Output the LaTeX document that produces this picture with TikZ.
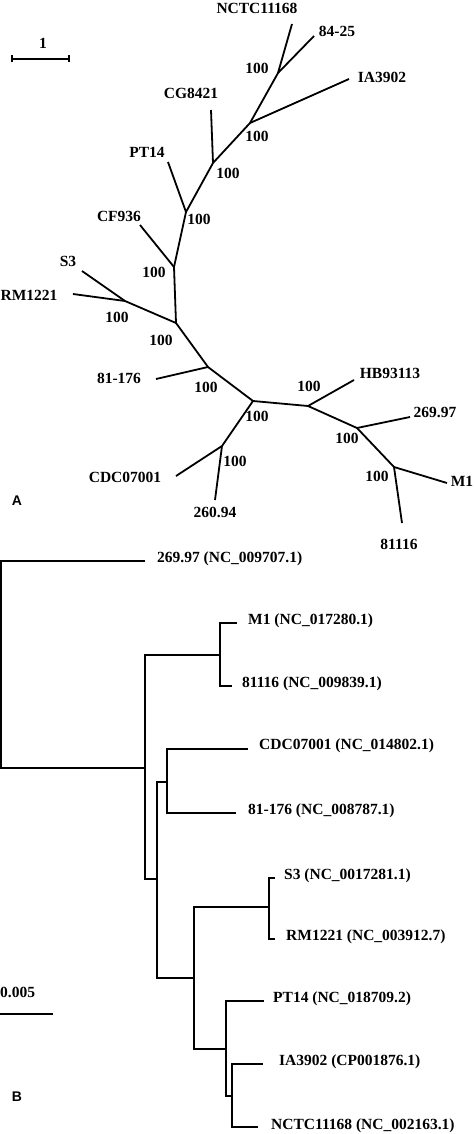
\documentclass[tikz,border=0pt]{standalone}
\usepackage{fontspec}
\setmainfont{Liberation Serif}
\newfontfamily\sansb{Liberation Sans}
\begin{document}
\begin{tikzpicture}[x=1pt,y=-1pt,
  lbl/.style={inner sep=0pt,text height=10.3pt,text depth=0pt,font=\fontsize{15.5}{18}\selectfont\bfseries},
  brA/.style={line width=1.8pt},
  brB/.style={line width=1.4pt},
  panel/.style={inner sep=0pt,font=\sansb\fontsize{14}{16}\selectfont\bfseries}]
\useasboundingbox (0,0) rectangle (474,1134);
% ---------------- Tree A ----------------
\coordinate (a84) at (278,73);
\coordinate (aIA) at (250,123);
\coordinate (aCG) at (213,163);
\coordinate (aPT) at (186,212);
\coordinate (aCF) at (174,267);
\coordinate (aS) at (176,323);
\coordinate (aSR) at (125,301);
\coordinate (a81) at (208,367);
\coordinate (aC) at (253,401);
\coordinate (aCDC) at (222,446);
\coordinate (aHB) at (308,406);
\coordinate (a269) at (357,428);
\coordinate (aM1) at (394,467);
% leaves
\coordinate (lNCTC) at (292,24);
\coordinate (l8425) at (314,36);
\coordinate (lIA) at (349,79);
\coordinate (lCG) at (211,110);
\coordinate (lPT) at (168,162);
\coordinate (lCF) at (140,225);
\coordinate (lS3) at (82,271);
\coordinate (lRM) at (73,294);
\coordinate (l81) at (156,379);
\coordinate (lCDC) at (176,476);
\coordinate (l260) at (215,500);
\coordinate (lHB) at (354,380);
\coordinate (l269) at (410,417);
\coordinate (lM1) at (447,483);
\coordinate (l811) at (402,523);
% internal edges
\draw[brA] (a84) -- (aIA) -- (aCG) -- (aPT) -- (aCF) -- (aS) -- (a81) -- (aC) -- (aHB) -- (a269) -- (aM1);
\draw[brA] (aS) -- (aSR);
\draw[brA] (aC) -- (aCDC);
% leaf edges
\draw[brA] (a84) -- (lNCTC);
\draw[brA] (a84) -- (l8425);
\draw[brA] (aIA) -- (lIA);
\draw[brA] (aCG) -- (lCG);
\draw[brA] (aPT) -- (lPT);
\draw[brA] (aCF) -- (lCF);
\draw[brA] (aSR) -- (lS3);
\draw[brA] (aSR) -- (lRM);
\draw[brA] (a81) -- (l81);
\draw[brA] (aCDC) -- (lCDC);
\draw[brA] (aCDC) -- (l260);
\draw[brA] (aHB) -- (lHB);
\draw[brA] (a269) -- (l269);
\draw[brA] (aM1) -- (lM1);
\draw[brA] (aM1) -- (l811);
% leaf labels
\node[lbl] (tNCTC) at (257,8) {NCTC11168};
\node[lbl] (t8425) at (337,31) {84-25};
\node[lbl] (tIA) at (382,77) {IA3902};
\node[lbl] (tCG) at (191,93) {CG8421};
\node[lbl] (tPT) at (147,152) {PT14};
\node[lbl] (tCF) at (119,216) {CF936};
\node[lbl] (tS3) at (68,261) {S3};
\node[lbl] (tRM) at (29,295) {RM1221};
\node[lbl] (t81) at (119,378) {81-176};
\node[lbl] (tCDC) at (125,477) {CDC07001};
\node[lbl] (t260) at (215,512) {260.94};
\node[lbl] (tHB) at (390,373) {HB93113};
\node[lbl] (t269) at (435,412) {269.97};
\node[lbl] (tM1) at (462,481) {M1};
\node[lbl] (t811) at (399,544) {81116};
% bootstrap values
\node[lbl] (b1) at (257,68) {100};
\node[lbl] (b2) at (257,136) {100};
\node[lbl] (b3) at (228,173) {100};
\node[lbl] (b4) at (199,219) {100};
\node[lbl] (b5) at (154,272) {100};
\node[lbl] (b6) at (117,317) {100};
\node[lbl] (b7) at (161,340) {100};
\node[lbl] (b8) at (206,387) {100};
\node[lbl] (b9) at (257,416) {100};
\node[lbl] (b10) at (235,461) {100};
\node[lbl] (b11) at (309,386) {100};
\node[lbl] (b12) at (347,438) {100};
\node[lbl] (b13) at (377,476) {100};
% scale bar A
\coordinate (sa1) at (12,59);
\coordinate (sa2) at (69,59);
\draw[line width=1.6pt] (sa1) -- (sa2);
\draw[line width=1.4pt] ([yshift=-3.5pt]sa1) -- ([yshift=3.5pt]sa1);
\draw[line width=1.4pt] ([yshift=-3.5pt]sa2) -- ([yshift=3.5pt]sa2);
\node[lbl] (sal) at (43,43) {1};
\node[panel] (pA) at (17,501) {A};
% ---------------- Tree B ----------------
\coordinate (r) at (1,664);
\coordinate (N1) at (145,768);
\coordinate (N2) at (220,655);
\coordinate (N3) at (157,879);
\coordinate (N4) at (167,782);
\coordinate (N5) at (194,978);
\coordinate (N6) at (269,907);
\coordinate (N7) at (226,1049);
\coordinate (N8) at (232,1096);
\coordinate (e269) at (145,561);
\coordinate (eM1) at (237,623);
\coordinate (e811) at (232,686);
\coordinate (eCDC) at (248,749);
\coordinate (e81) at (236,813);
\coordinate (eS3) at (275,878);
\coordinate (eRM) at (275,939);
\coordinate (ePT) at (264,1001);
\coordinate (eIA) at (263,1064);
\coordinate (eNC) at (258,1127);
\draw[brB] (r) |- (e269);
\draw[brB] (r) |- (N1);
\draw[line width=2.2pt] (0.8,561) -- (0.8,768);
\draw[brB] (N1) |- (N2);
\draw[brB] (N1) |- (N3);
\draw[brB] (N2) |- (eM1);
\draw[brB] (N2) |- (e811);
\draw[brB] (N3) |- (N4);
\draw[brB] (N3) |- (N5);
\draw[brB] (N4) |- (eCDC);
\draw[brB] (N4) |- (e81);
\draw[brB] (N5) |- (N6);
\draw[brB] (N5) |- (N7);
\draw[brB] (N6) |- (eS3);
\draw[brB] (N6) |- (eRM);
\draw[brB] (N7) |- (ePT);
\draw[brB] (N7) |- (N8);
\draw[brB] (N8) |- (eIA);
\draw[brB] (N8) |- (eNC);
\node[lbl,anchor=west] (u269) at (157,557) {269.97 (NC\_009707.1)};
\node[lbl,anchor=west] (uM1) at (248,619) {M1 (NC\_017280.1)};
\node[lbl,anchor=west] (u811) at (242,682) {81116 (NC\_009839.1)};
\node[lbl,anchor=west] (uCDC) at (259,744) {CDC07001 (NC\_014802.1)};
\node[lbl,anchor=west] (u81) at (248,809) {81-176 (NC\_008787.1)};
\node[lbl,anchor=west] (uS3) at (284,874) {S3 (NC\_0017281.1)};
\node[lbl,anchor=west] (uRM) at (286,935) {RM1221 (NC\_003912.7)};
\node[lbl,anchor=west] (uPT) at (273,997) {PT14 (NC\_018709.2)};
\node[lbl,anchor=west] (uIA) at (279,1060) {IA3902 (CP001876.1)};
\node[lbl,anchor=west] (uNC) at (271,1124) {NCTC11168 (NC\_002163.1)};
% scale bar B
\coordinate (sb1) at (0,1014);
\coordinate (sb2) at (53,1014);
\draw[line width=1.3pt] (sb1) -- (sb2);
\node[lbl,anchor=west] (sbl) at (0,992) {0.005};
\node[panel] (pB) at (17,1097) {B};
\end{tikzpicture}
\end{document}
